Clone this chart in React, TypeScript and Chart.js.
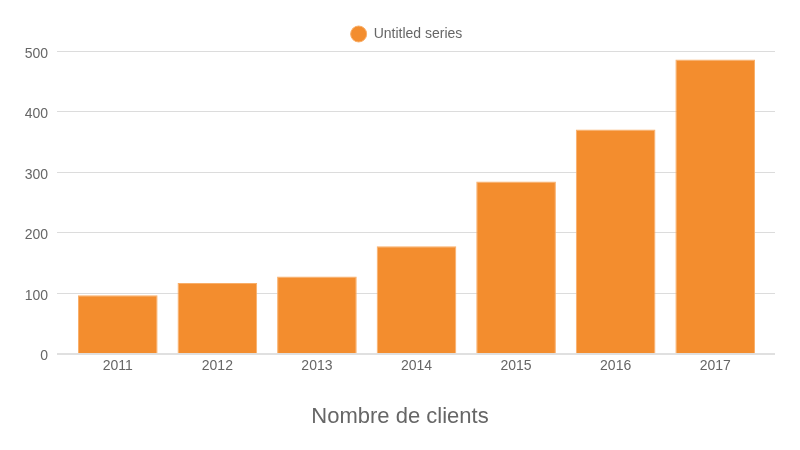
import React, { useEffect, useRef } from "react";
import { Chart, registerables } from "chart.js";

Chart.register(...registerables);

const categories = ["2011", "2012", "2013", "2014", "2015", "2016", "2017"];
const seriesName = "Untitled series";
const seriesValues = [96, 116, 127, 177, 284, 370, 486];
const axisTitle = "Nombre de clients";
const FONT = "'Liberation Sans', Arial, sans-serif";

const extendedGrid = {
  id: "extendedGrid",
  beforeDatasetsDraw(chart: any) {
    const { ctx, chartArea, scales } = chart;
    const y = scales.y;
    ctx.save();
    y.ticks.forEach((t: any) => {
      const base = Math.round(y.getPixelForValue(t.value));
      const isZero = t.value === 0;
      ctx.strokeStyle = isZero ? "#e0e0e0" : "#dcdcdc";
      ctx.lineWidth = isZero ? 2 : 1;
      const py = isZero ? base + 1 : base + 0.5;
      ctx.beginPath();
      ctx.moveTo(chartArea.left - 11, py);
      ctx.lineTo(chartArea.right + 10, py);
      ctx.stroke();
    });
    ctx.restore();
  },
};

const bottomTitle = {
  id: "bottomTitle",
  afterDraw(chart: any) {
    const { ctx } = chart;
    ctx.save();
    ctx.fillStyle = "#666";
    ctx.font = `22px ${FONT}`;
    ctx.textAlign = "center";
    ctx.textBaseline = "middle";
    ctx.fillText(axisTitle, chart.width / 2, chart.height - 33);
    ctx.restore();
  },
};

export default function App() {
  const ref = useRef<HTMLCanvasElement | null>(null);
  useEffect(() => {
    if (!ref.current) return;
    const chart = new Chart(ref.current, {
      type: "bar",
      data: {
        labels: categories,
        datasets: [
          {
            label: seriesName,
            data: seriesValues,
            backgroundColor: "#F38D2E",
            borderColor: "#F9AE68",
            borderWidth: 1,
            barPercentage: 0.8,
            categoryPercentage: 1,
          },
        ],
      },
      plugins: [extendedGrid, bottomTitle],
      options: {
        animation: false,
        responsive: false,
        maintainAspectRatio: false,
        layout: { padding: { left: 24, right: 11, top: 18, bottom: 70 } },
        plugins: {
          legend: {
            position: "top",
            labels: {
              usePointStyle: true,
              pointStyle: "circle",
              pointStyleWidth: 16,
              boxHeight: 11.3,
              padding: 9,
              color: "#666",
              font: { family: FONT, size: 14 },
            },
          },
          tooltip: { enabled: false },
        },
        scales: {
          x: {
            grid: { display: false, drawTicks: false },
            border: { display: false },
            ticks: {
              color: "#666",
              padding: 5,
              font: { family: FONT, size: 14 },
            },
          },
          y: {
            min: 0,
            max: 500,
            afterFit: (scale: any) => {
              scale.width = 44;
            },
            ticks: {
              stepSize: 100,
              color: "#666",
              padding: 20,
              labelOffset: 3,
              font: { family: FONT, size: 14 },
            },
            grid: { display: false, drawTicks: false },
            border: { display: false },
          },
          yRightSpace: {
            type: "linear",
            position: "right",
            display: true,
            afterFit: (scale: any) => {
              scale.width = 24;
            },
            ticks: { display: false },
            grid: { display: false, drawTicks: false },
            border: { display: false },
          },
        },
      },
    });
    return () => chart.destroy();
  }, []);
  return (
    <div style={{ position: "absolute", left: 0, top: 0, width: 800, height: 450, background: "#fff" }}>
      <canvas ref={ref} width={800} height={450} style={{ width: 800, height: 450 }} />
    </div>
  );
}
